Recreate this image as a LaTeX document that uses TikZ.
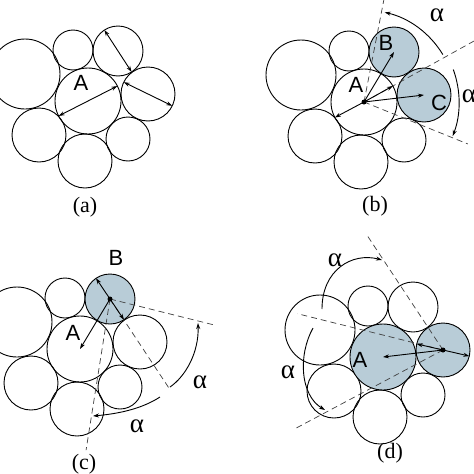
\documentclass[tikz,border=0pt]{standalone}
\usepackage{fontspec}
\setmainfont{Liberation Serif}
\newfontfamily\labfont{Liberation Sans}
\usetikzlibrary{arrows.meta,calc}
\definecolor{shade}{RGB}{184,204,215}
\begin{document}
\begin{tikzpicture}[x=1pt,y=-1pt,
  ball/.style={circle,draw,line width=0.9pt,inner sep=0pt,outer sep=0pt},
  c-L/.style={},c-T/.style={},c-TR/.style={},c-R/.style={},c-A/.style={},
  c-BL/.style={},c-Bo/.style={},c-BR/.style={},
  dline/.style={dash pattern=on 6pt off 4pt,line width=0.7pt,black!75},
  arr/.style={-{Stealth[length=6pt,width=4pt]},line width=0.9pt},
  darr/.style={{Stealth[length=6pt,width=4pt]}-{Stealth[length=6pt,width=4pt]},line width=0.9pt},
  cdot/.style={circle,fill,inner sep=0pt,minimum size=5pt},
  lab/.style={font=\labfont\fontsize{22}{22}\selectfont,inner sep=0pt},
  ptitle/.style={font=\fontsize{22}{22}\selectfont,inner sep=0pt},
  alab/.style={font=\fontsize{27}{27}\selectfont,inner sep=0pt},
  cluster/.pic={
    \node[ball,c-L,minimum size=70pt] (-L) at (-63,-27) {};
    \node[ball,c-T,minimum size=40pt] (-T) at (-15,-51) {};
    \node[ball,c-TR,minimum size=50pt] (-TR) at (30,-50) {};
    \node[ball,c-R,minimum size=54pt] (-R) at (60,-7) {};
    \node[ball,c-BL,minimum size=54pt] (-BL) at (-49,34) {};
    \node[ball,c-Bo,minimum size=54pt] (-Bo) at (-3,60) {};
    \node[ball,c-BR,minimum size=44pt] (-BR) at (40,38) {};
    \node[ball,c-A,minimum size=66pt] (-A) at (0,0) {};
  }
]
\useasboundingbox (0,0) rectangle (474,474);
\fill[white] (0,0) rectangle (474,474);

% ---------- (a)
\pic (a) at (88,101) {cluster};
\draw[darr] (a-A.207) -- (a-A.27);
\draw[darr] (a-TR.123) -- (a-TR.-57);
\draw[darr] (a-R.154) -- (a-R.-26);
\node[lab] (a-lA) at (81,83) {A};
\node[ptitle] (a-cap) at (85,207) {(a)};

% ---------- (b)
\pic[c-TR/.style={fill=shade},c-R/.style={fill=shade}] (b) at (364,102) {cluster};
\coordinate (b-e1) at ($(b-A.center)+(79:112pt)$);
\coordinate (b-e2) at ($(b-A.center)+(29:130pt)$);
\coordinate (b-e3) at ($(b-A.center)+(-22:112pt)$);
\draw[dline] (b-A.center) -- (b-e1);
\draw[dline] (b-A.center) -- (b-e2);
\draw[dline] (b-A.center) -- (b-e3);
\draw[arr] (b-A.center) -- (b-TR.center);
\draw[arr] (b-A.center) -- (b-R.center);
\draw[arr] (b-A.center) -- (b-A.29);
\draw[arr] (b-A.center) -- (b-A.208);
\node[cdot] (b-dot) at (b-A.center) {};
\coordinate (b-s1) at ($(b-A.center)+(31:92pt)$);
\draw[arr] (b-s1) arc[start angle=31,end angle=77,radius=92pt];
\coordinate (b-s2) at ($(b-A.center)+(20:95pt)$);
\draw[arr] (b-s2) arc[start angle=20,end angle=-21,radius=95pt];
\node[alab] (b-al1) at (437,15) {α};
\node[alab] (b-al2) at (469,96) {α};
\node[lab] (b-lB) at (386,43) {B};
\node[lab] (b-lA) at (356,85) {A};
\node[lab] (b-lC) at (439,103) {C};
\node[ptitle] (b-cap) at (375,206) {(b)};

% ---------- (c)
\pic[c-TR/.style={fill=shade}] (c) at (80,349) {cluster};
\coordinate (c-e1) at ($(c-TR.center)+(-14:108pt)$);
\coordinate (c-e2) at ($(c-TR.center)+(-56.5:108pt)$);
\coordinate (c-e3) at ($(c-TR.center)+(-99:153pt)$);
\draw[dline] (c-TR.center) -- (c-e1);
\draw[dline] (c-TR.center) -- (c-e2);
\draw[dline] (c-TR.center) -- (c-e3);
\draw[arr] (c-TR.center) -- (c-A.center);
\draw[darr] (c-TR.124) -- (c-TR.-56);
\node[cdot] (c-dot) at (c-TR.center) {};
\coordinate (c-p1) at (170,387);
\coordinate (c-q1) at (198,323);
\draw[arr] (c-p1) .. controls (186,376) and (199,352) .. (c-q1);
\coordinate (c-p2) at (160,397);
\coordinate (c-q2) at (93,416);
\draw[arr] (c-p2) .. controls (140,410) and (115,414) .. (c-q2);
\node[alab] (c-al1) at (200,382) {α};
\node[alab] (c-al2) at (137,426) {α};
\node[lab] (c-lB) at (116,258) {B};
\node[lab] (c-lA) at (73,333) {A};
\node[ptitle] (c-cap) at (84,464) {(c)};

% ---------- (d)
\pic[c-A/.style={fill=shade},c-R/.style={fill=shade}] (d) at (383,357) {cluster};
\coordinate (d-e1) at ($(d-R.center)+(123.5:140pt)$);
\coordinate (d-e2) at ($(d-R.center)+(166:150pt)$);
\coordinate (d-e3) at ($(d-R.center)+(208:166pt)$);
\draw[dline] (d-R.center) -- (d-e1);
\draw[dline] (d-R.center) -- (d-e2);
\draw[dline] (d-R.center) -- (d-e3);
\draw[arr] (d-R.center) -- (d-A.center);
\draw[darr] (d-R.167) -- (d-R.-13);
\node[cdot] (d-dot) at (d-R.center) {};
\coordinate (d-p1) at (322,309);
\coordinate (d-q1) at (382,260);
\draw[arr] (d-p1) .. controls (322,270) and (352,252) .. (d-q1);
\coordinate (d-p2) at (313,328);
\coordinate (d-q2) at (325,410);
\draw[arr] (d-p2) .. controls (298,355) and (300,395) .. (d-q2);
\node[alab] (d-al1) at (335,260) {α};
\node[alab] (d-al2) at (288,372) {α};
\node[lab] (d-lA) at (360,360) {A};
\node[ptitle] (d-cap) at (390,453) {(d)};
\end{tikzpicture}
\end{document}
